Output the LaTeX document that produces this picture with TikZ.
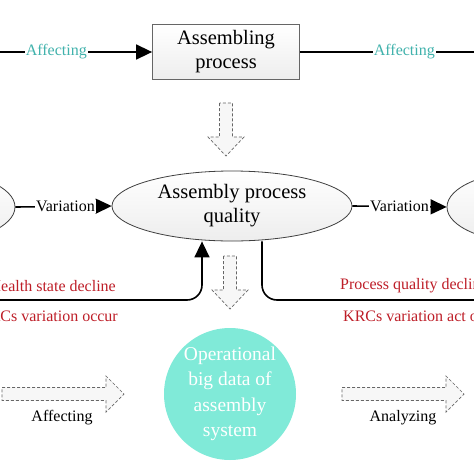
\documentclass[tikz,border=0pt]{standalone}
\usepackage{fontspec}
\setmainfont{Liberation Serif}
\usetikzlibrary{arrows.meta,shapes.geometric}
\definecolor{tealtxt}{RGB}{64,178,172}
\definecolor{redtxt}{RGB}{190,30,40}
\definecolor{circfill}{RGB}{128,234,216}
\tikzset{
  conn/.style={line width=1.6pt, black},
  tip/.style={-{Triangle[length=16pt,width=15pt]}},
  bigtxt/.style={font=\fontsize{20.5}{24}\selectfont, align=center},
  lbl/.style={font=\fontsize{16}{18}\selectfont, inner sep=1pt},
  tlbl/.style={lbl, text=tealtxt, fill=white},
  rlbl/.style={lbl, text=redtxt},
  dashshape/.style={draw=black!60, line width=0.7pt, dash pattern=on 3pt off 2pt, fill=black!3},
  pics/downarrow/.style={code={
    \draw[dashshape] (-6.5,0) -- (-6.5,34) -- (-18,34) -- (0,53) -- (18,34) -- (6.5,34) -- (6.5,0) -- cycle;}},
  pics/rightarrow/.style={code={
    \draw[dashshape] (0,-6.5) -- (104,-6.5) -- (104,-18) -- (122,0) -- (104,18) -- (104,6.5) -- (0,6.5) -- cycle;}},
}
\begin{document}
\begin{tikzpicture}[x=1pt,y=-1pt]
\useasboundingbox (0,0) rectangle (474,474);
\clip (0,0) rectangle (474,474);
\fill[white] (0,0) rectangle (474,474);
% top box
\node[draw=black!60, line width=0.8pt, top color=white, bottom color=black!7,
      minimum width=147, minimum height=55, bigtxt, inner sep=0pt] (box) at (226,52)
      {Assembling\\process};
\coordinate (tl) at (-5,52);
\coordinate (tr) at (480,52);
\draw[conn,tip] (tl) -- node[tlbl, pos=0.39] {Affecting} (box.west);
\draw[conn] (box.east) -- node[tlbl, pos=0.58] {Affecting} (tr);
% down arrow 1
\pic (da1) at (226,103) {downarrow};
% ellipses
\node[ellipse, draw=black!75, line width=0.8pt, top color=white, bottom color=black!7,
      minimum width=240, minimum height=70, bigtxt, inner sep=0pt] (q) at (232,206)
      {Assembly process\\quality};
\node[ellipse, draw=black!75, line width=0.8pt, top color=white, bottom color=black!7,
      minimum width=170, minimum height=72] (le) at (-70,207) {};
\node[ellipse, draw=black!75, line width=0.8pt, top color=white, bottom color=black!7,
      minimum width=170, minimum height=72] (re) at (532,207) {};
\draw[conn,tip] (le.east) -- node[lbl, fill=white, pos=0.52] {Variation} (q.west);
\draw[conn,tip] (q.east) -- node[lbl, fill=white, pos=0.5] {Variation} (re.west);
% lower connectors
\coordinate (hs) at (-5,300);
\coordinate (hx) at (202,0);
\coordinate (rx) at (262,0);
\coordinate (he) at (480,300);
\draw[conn,tip,rounded corners=15pt] (hs) -| (q.south -| hx);
\draw[conn,rounded corners=15pt] (q.south -| rx) |- (he);
% down arrow 2
\pic (da2) at (230,256) {downarrow};
% red labels
\node[rlbl, anchor=east] (hsd) at (117,286) {Health state decline};
\node[rlbl, anchor=east] (kvo) at (119,316) {KRCs variation occur};
\node[rlbl, anchor=west] (pqd) at (339,286) {Process quality decline};
\node[rlbl, anchor=west] (kva) at (342,316) {KRCs variation act on};
% circle
\node[circle, fill=circfill, minimum size=132, inner sep=0pt, text=white,
      font=\fontsize{19.5}{25.5}\selectfont, align=center] (bd) at (230,394)
      {Operational\\big data of\\assembly\\system};
% right arrows
\pic (ra1) at (2,394) {rightarrow};
\pic (ra2) at (342,394) {rightarrow};
\node[lbl] (aff) at (62,418) {Affecting};
\node[lbl] (ana) at (403,418) {Analyzing};
\end{tikzpicture}
\end{document}
